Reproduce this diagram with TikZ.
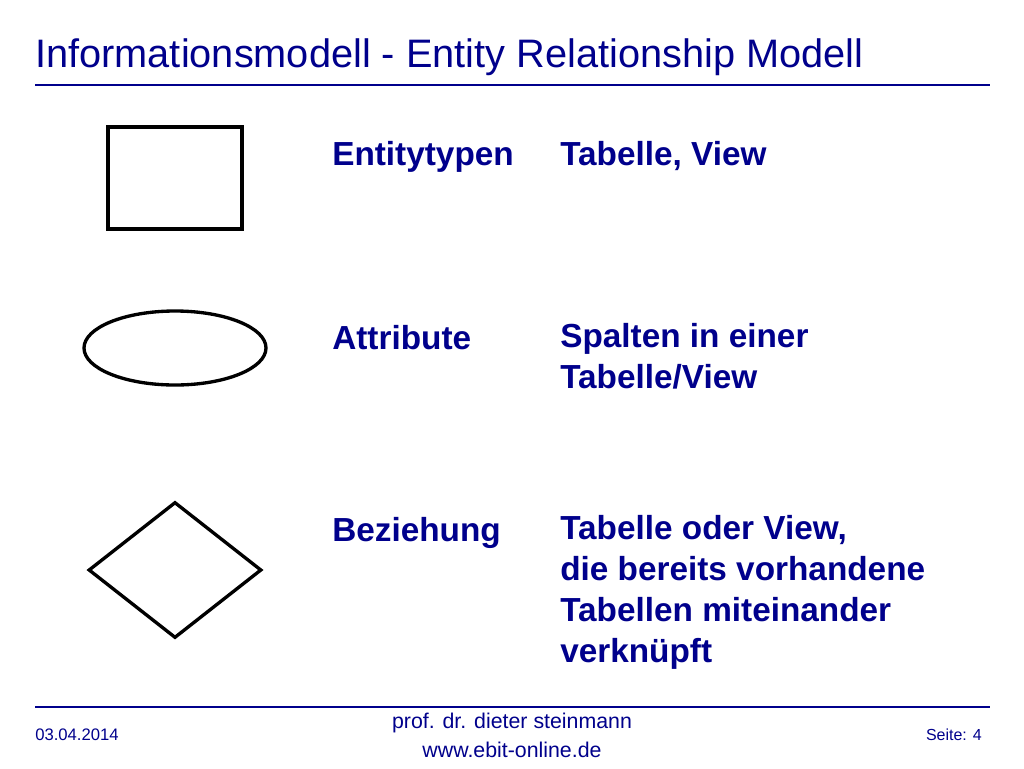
\documentclass[tikz,border=0pt]{standalone}
\usepackage{fontspec}
\setmainfont{Liberation Sans}
\usetikzlibrary{shapes.geometric}
\definecolor{dblue}{RGB}{0,0,140}
\begin{document}
\begin{tikzpicture}[x=0.75pt,y=-0.75pt,
  lbl/.style={anchor=west,text=dblue,font=\fontsize{25}{30.75}\selectfont\bfseries,align=left,inner sep=0},
  foot/.style={text=dblue,font=\fontsize{12.5}{22}\selectfont,inner sep=0},
  sym/.style={draw=black,line width=2.5pt}]
\useasboundingbox[fill=white] (0,0) rectangle (1024,768);
\node[anchor=base west,text=dblue,font=\fontsize{29.8}{36}\selectfont,inner sep=0] (title) at (35,67) {Informationsmodell - Entity Relationship Modell};
\draw[dblue,line width=0.8pt] (35,85) -- (990,85);
\node[sym,rectangle,minimum width=134*0.75pt,minimum height=102*0.75pt] (rect) at (175,178) {};
\node[sym,ellipse,minimum width=182*0.75pt,minimum height=74*0.75pt,inner sep=0] (ell) at (175,348) {};
\node[sym,diamond,minimum width=173*0.75pt,minimum height=136*0.75pt,inner sep=0,aspect=1.27] (dia) at (175,570) {};
\node[lbl,anchor=base west] (e1) at (332,165) {Entitytypen};
\node[lbl,anchor=base west] (e2) at (560,165) {Tabelle, View};
\node[lbl,anchor=base west] (a1) at (332,349) {Attribute};
\node[lbl,anchor=north west] (a2) at (560,323) {Spalten in einer\\Tabelle/View};
\node[lbl,anchor=base west] (b1) at (332,541) {Beziehung};
\node[lbl,anchor=north west] (b2) at (560,515) {Tabelle oder View,\\die bereits vorhandene\\Tabellen miteinander\\verknüpft};
\draw[dblue,line width=0.8pt] (35,707) -- (990,707);
\node[foot,anchor=west] (date) at (35,735) {03.04.2014};
\node[foot,align=center,font=\fontsize{16}{21.75}\selectfont] (auth) at (512,735) {prof. dr. dieter steinmann\\www.ebit-online.de};
\node[foot,anchor=east,font=\fontsize{12}{22}\selectfont] (page) at (982,735) {Seite: 4};
\end{tikzpicture}
\end{document}
